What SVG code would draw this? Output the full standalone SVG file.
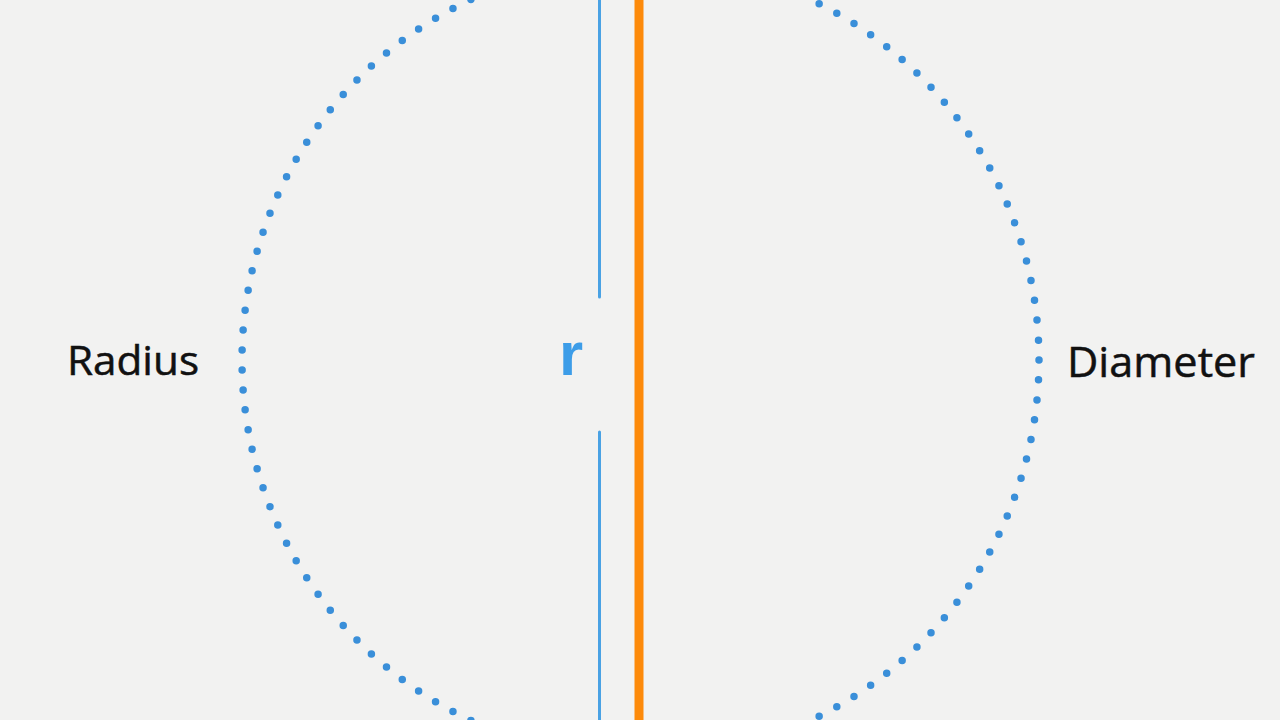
<svg xmlns="http://www.w3.org/2000/svg" width="1280" height="720" viewBox="0 0 1280 720">
  <style>
    .label { font-family: "Open Sans", "Noto Sans", "Liberation Sans", sans-serif; fill: #111111; stroke: #111111; stroke-width: 0.5; }
    .dots { fill: none; stroke: #3a8fd9; stroke-width: 7.5; stroke-linecap: round; stroke-dasharray: 0 1; }
    .radius-line { stroke: #4aa2e4; stroke-width: 3; stroke-linecap: round; }
    .diameter-line { stroke: #fd8a0a; stroke-width: 9; }
    .r-label { font-family: "Liberation Sans", Arial, sans-serif; font-weight: bold; fill: #3d9de8; }
  </style>
  <rect width="1280" height="720" fill="#f2f2f1"/>
  <g id="circle">
    <circle class="dots" cx="640.5" cy="360" r="398.5" pathLength="125"/>
  </g>
  <g id="connectors">
    <line class="radius-line" x1="599.5" y1="-5" x2="599.5" y2="297"/>
    <line class="radius-line" x1="599.5" y1="432" x2="599.5" y2="725"/>
    <line class="diameter-line" x1="639" y1="0" x2="639" y2="720"/>
  </g>
  <g id="label-r">
    <text class="r-label" x="559" y="375" font-size="62">r</text>
  </g>
  <g id="label-radius">
    <text class="label" x="67" y="375" font-size="40" textLength="132" lengthAdjust="spacingAndGlyphs">Radius</text>
  </g>
  <g id="label-diameter">
    <text class="label" x="1067" y="377" font-size="42" textLength="188" lengthAdjust="spacingAndGlyphs">Diameter</text>
  </g>
</svg>
